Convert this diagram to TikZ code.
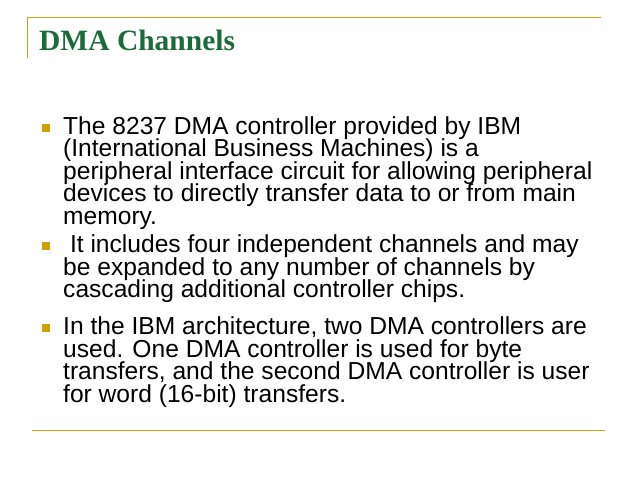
\documentclass[tikz,border=0pt]{standalone}
\usepackage{fontspec}
\setmainfont{Liberation Sans}
\newfontfamily\titlefont{Liberation Serif}
\definecolor{gold}{HTML}{D4A017}
\definecolor{tgreen}{HTML}{1E6B3A}
\definecolor{bul}{HTML}{C9A400}
\begin{document}
\begin{tikzpicture}[x=1pt,y=-1pt,
  txt/.style={anchor=base west,inner sep=0pt,font=\fontsize{24.6}{28}\selectfont},
  bullet/.style={fill=bul,minimum size=8pt,inner sep=0pt}]
\useasboundingbox (0,0) rectangle (638,478);
\fill[white] (0,0) rectangle (638,478);
\draw[gold,line width=0.8pt] (27,17) coordinate (tl) -- (601,17) coordinate (tr);
\draw[gold,line width=0.8pt] (tl) -- (27,58) coordinate (vl);
\draw[gold,line width=0.8pt] (32,430) coordinate (bl) -- (605,430) coordinate (br);
\node[anchor=base west,inner sep=0pt,text=tgreen,font=\titlefont\bfseries\fontsize{29.5}{34}\selectfont] (title) at (39,51) {DMA Channels};
\node[bullet] (b1) at (46,128) {};
\node[bullet] (b2) at (46,246) {};
\node[bullet] (b3) at (46,328) {};
\node[txt] (l1) at (63,135) {The 8237 DMA controller provided by IBM};
\node[txt] (l2) at (63,157) {(International Business Machines) is a};
\node[txt] (l3) at (63,180) {peripheral interface circuit for allowing peripheral};
\node[txt] (l4) at (63,202) {devices to directly transfer data to or from main};
\node[txt] (l5) at (63,225) {memory.};
\node[txt] (l6) at (63,253) {\ It includes four independent channels and may};
\node[txt] (l7) at (63,276) {be expanded to any number of channels by};
\node[txt] (l8) at (63,298) {cascading additional controller chips.};
\node[txt] (l9) at (63,335) {In the IBM architecture, two DMA controllers are};
\node[txt] (l10) at (63,358) {used. One DMA controller is used for byte};
\node[txt] (l11) at (63,380) {transfers, and the second DMA controller is user};
\node[txt] (l12) at (63,403) {for word (16-bit) transfers.};
\end{tikzpicture}
\end{document}
